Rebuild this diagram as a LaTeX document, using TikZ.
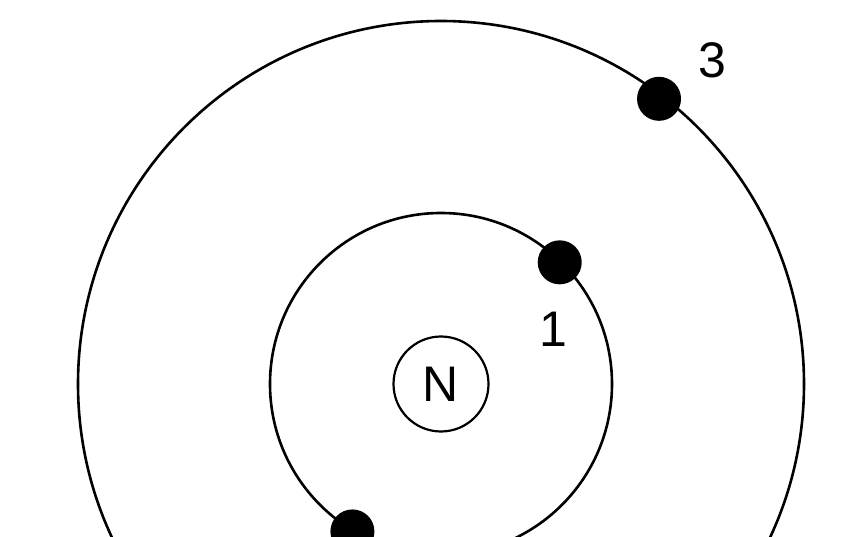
\documentclass[tikz,border=0pt]{standalone}
\usepackage{fontspec}
\setmainfont{Liberation Sans}
\tikzset{
    orbit/.style={black, line width=2.6pt},
    electron/.style={circle, fill=black, inner sep=0pt, minimum size=44pt},
    nucleus/.style={circle, draw=black, line width=2.2pt, inner sep=0pt, minimum size=95pt},
    tag/.style={font=\fontsize{50}{60}\selectfont}
}
\newcommand{\Orbits}{
    \draw[orbit] (nuc) circle (171pt);
    \draw[orbit] (nuc) circle (363pt);
}

\begin{document}
\begin{tikzpicture}[x=1pt, y=1pt]
        \clip (0,0) rectangle (862,536);
        \node[nucleus, tag] (nuc) at (441,152) {N};
        \Orbits
        \node[electron] (e1) at ([shift={(45.7:170pt)}]nuc) {};
        \node[electron] (e3) at ([shift={(52.6:359pt)}]nuc) {};
        \node[electron] (e2) at ([shift={(-121:172pt)}]nuc) {};
        \node[tag] (l3) at (712,476) {3};
        \node[tag] (l1) at (553,207) {1};
    \end{tikzpicture}
\end{document}
